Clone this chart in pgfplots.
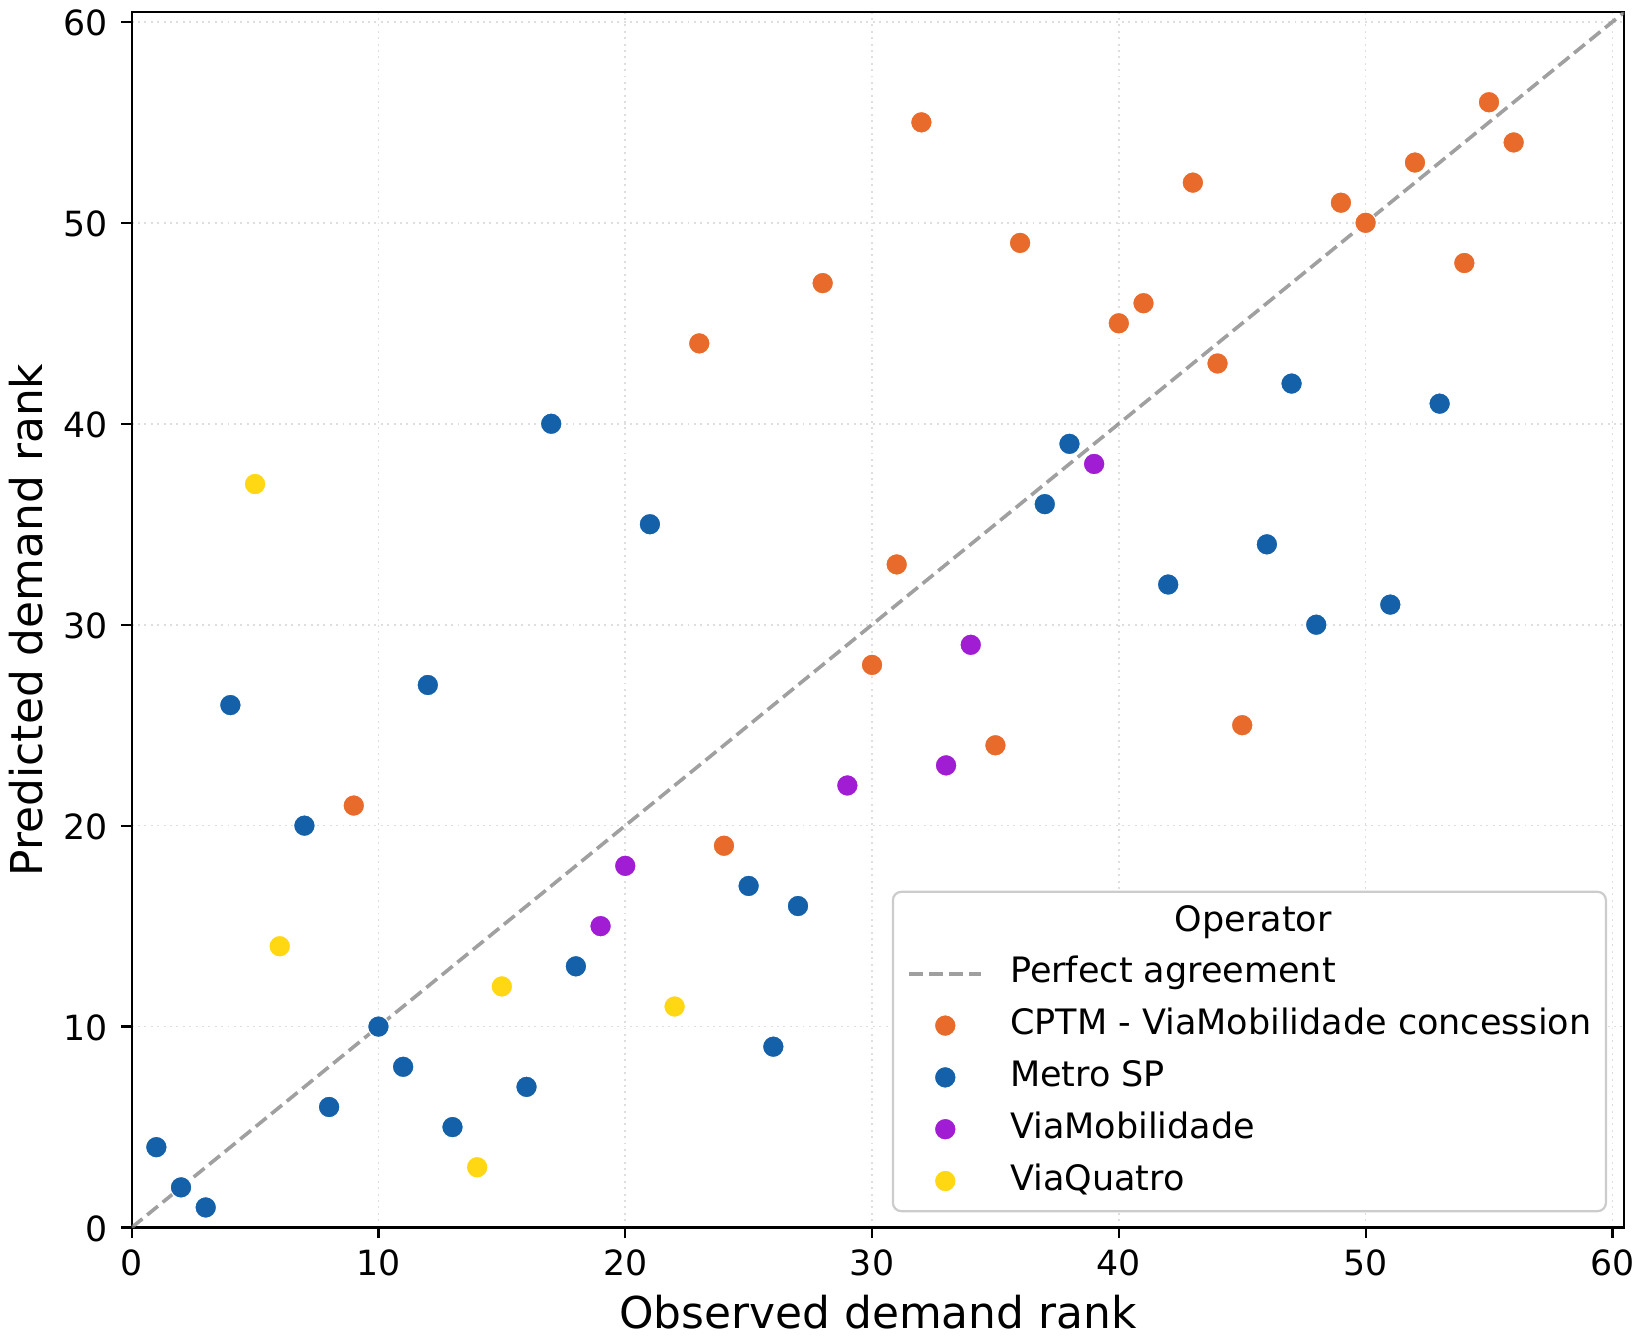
\documentclass[border=0pt]{standalone}
\usepackage{pgfplots}
\usepackage{pgfplotstable}
\pgfplotsset{compat=1.18}
\usepackage{fontspec}
\setmainfont{DejaVu Sans}
\definecolor{cptm}{RGB}{232,107,44}
\definecolor{metro}{RGB}{20,97,170}
\definecolor{viamob}{RGB}{161,29,211}
\definecolor{viaq}{RGB}{255,215,18}
\definecolor{gridc}{RGB}{222,222,222}
\definecolor{diag}{RGB}{128,128,128}
\definecolor{legedge}{RGB}{204,204,204}

\pgfplotstableread{
x y
32 55
55 56
56 54
52 53
49 51
50 50
43 52
36 49
28 47
41 46
40 45
23 44
44 43
54 48
31 33
30 28
35 24
45 25
9 21
24 19
}\cptmdata

\pgfplotstableread{
x y
17 40
21 35
4 26
12 27
7 20
38 39
37 36
47 42
53 41
46 34
42 32
51 31
48 30
25 17
27 16
18 13
10 10
11 8
26 9
8 6
16 7
13 5
1 4
2 2
3 1
}\metrodata

\pgfplotstableread{
x y
39 38
34 29
33 23
29 22
20 18
19 15
}\viamobdata

\pgfplotstableread{
x y
5 37
6 14
15 12
22 11
14 3
}\viaqdata

\pgfplotstableread{
x y
0 0
60.48 60.48
}\diagdata

\pgfplotsset{
  dotstyle/.style={only marks, mark=*, mark size=3.9pt,
    mark options={draw=white, line width=0.4pt, fill=#1},
    legend image code/.code={\draw[mark repeat=2,mark phase=2] plot coordinates {(0pt,0pt) (13pt,0pt) (26pt,0pt)};}},
}

\begin{document}
\begin{tikzpicture}
\begin{axis}[
  scale only axis,
  width=537.3pt, height=437.5pt,
  xmin=0, xmax=60.48, ymin=0, ymax=60.48,
  xtick={0,10,...,60}, ytick={0,10,...,60},
  tick pos=left,
  tick align=outside,
  major tick length=3.8pt,
  every tick/.style={black, line width=0.8pt},
  axis line style={line width=0.8pt},
  grid=major,
  major grid style={color=gridc, line width=0.6pt, dash pattern=on 0.7pt off 1.6pt},
  /pgf/number format/assume math mode=true,
  ticklabel style={font=\fontsize{12.5}{15}\selectfont},
  xticklabel style={anchor=north, inner sep=0pt, yshift=-4.0pt},
  yticklabel style={anchor=east, inner sep=0pt, xshift=-4.8pt, yshift=-0.4pt},
  xlabel={Observed demand rank},
  ylabel={Predicted demand rank},
  label style={font=\fontsize{15.8}{19}\selectfont},
  xlabel style={at={(axis description cs:0.5,0)}, anchor=base, inner sep=0pt, yshift=-36.5pt},
  ylabel style={at={(axis description cs:0,0.5)}, anchor=base, inner sep=0pt, yshift=32pt},
  legend style={
    at={(1,0)}, anchor=south east, xshift=-6.2pt, yshift=5.5pt,
    draw=legedge, line width=0.8pt, rounded corners=3pt, fill=white,
    font=\fontsize{12.6}{15.1}\selectfont,
    inner xsep=5.2pt, inner ysep=4.8pt,
    row sep=6.55pt, column sep=9.7pt,
    nodes={inner sep=0pt, text height=9.3pt, text depth=2.8pt},
  },
  legend cell align=left,
]
\addlegendimage{empty legend}
\addlegendentry{\hspace*{59.3pt}Operator}
\addlegendimage{color=diag, opacity=0.75, line width=1.3pt, dash pattern=on 5pt off 2.2pt,
  legend image code/.code={\draw (0pt,0pt) -- (26pt,0pt);}}
\addlegendentry{Perfect agreement}

\addplot[dotstyle=cptm] table {\cptmdata};
\addlegendentry{CPTM - ViaMobilidade concession}
\addplot[dotstyle=metro] table {\metrodata};
\addlegendentry{Metro SP}
\addplot[dotstyle=viamob] table {\viamobdata};
\addlegendentry{ViaMobilidade}
\addplot[dotstyle=viaq] table {\viaqdata};
\addlegendentry{ViaQuatro}

\addplot[forget plot, color=diag, opacity=0.75, line width=1.3pt, dash pattern=on 5pt off 2.2pt] table {\diagdata};
\end{axis}
\pgfresetboundingbox
\path ([xshift=-47.4pt,yshift=-40.1pt]current axis.south west) rectangle ([xshift=6.4pt,yshift=4.4pt]current axis.north east);
\end{tikzpicture}
\end{document}
